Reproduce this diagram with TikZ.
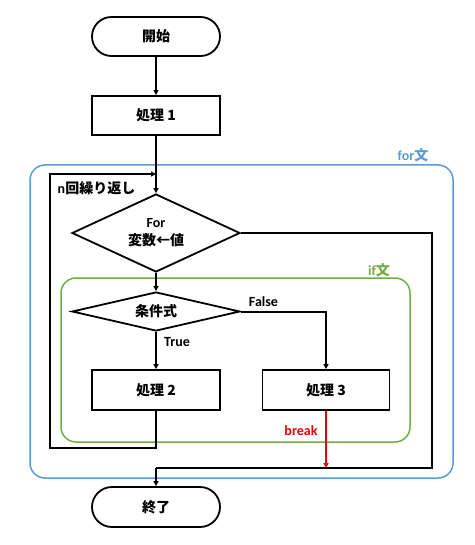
\documentclass[tikz,border=0pt]{standalone}
\usepackage{fontspec}
\setmainfont{Carlito}[BoldFont={Carlito Bold}]
\newfontfamily\jp{Noto Sans CJK JP}
\usetikzlibrary{shapes.geometric,shapes.misc,arrows.meta}
\definecolor{forblue}{RGB}{91,155,213}
\definecolor{ifgreen}{RGB}{112,173,71}
\definecolor{brkred}{RGB}{235,0,0}
\newcommand{\J}[1]{{\jp\bfseries #1}}
\tikzset{
  base/.style={draw=black,line width=1.8pt,inner sep=0pt,font=\fontsize{14}{16}\selectfont\bfseries,align=center},
  term/.style={base,rounded rectangle,minimum width=128pt,minimum height=39pt},
  proc/.style={base,rectangle,minimum width=128pt,minimum height=39pt},
  dia/.style={base,diamond,minimum width=168pt},
  conn/.style={line width=2pt,-{Triangle[length=5pt,width=5pt]}},
  plain/.style={line width=2pt},
  lbl/.style={font=\fontsize{14}{16}\selectfont\bfseries,inner sep=0pt},
  group/.style={line width=1.5pt,rounded corners=15pt}
}
\begin{document}
\begin{tikzpicture}[x=1pt,y=-1pt]
\useasboundingbox (0,0) rectangle (474,545);
% group frames
\draw[group,draw=forblue] (30,165) rectangle (453,478);
\draw[group,draw=ifgreen] (61,278) rectangle (410,442);
\node[lbl,text=forblue] (forlbl) at (413,155) {for\J{文}};
\node[lbl,text=ifgreen] (iflbl) at (379,270) {if\J{文}};
% nodes
\node[term] (start) at (156,36.5) {\J{開始}};
\node[proc] (p1) at (156,115.5) {\J{処理 1}};
\node[dia,minimum height=78pt,aspect=2.15] (fordia) at (156,233) {For\\[2pt]\J{変数←値}};
\node[dia,minimum height=39pt,aspect=4.3] (cond) at (156,311.5) {\J{条件式}};
\node[proc,minimum height=40pt] (p2) at (156,390) {\J{処理 2}};
\node[proc,minimum width=127pt,minimum height=40pt] (p3) at (326,390) {\J{処理 3}};
\node[term,minimum height=40pt] (end) at (156,507) {\J{終了}};
% coordinates
\coordinate (loopbl) at (50,448);
\coordinate (looptl) at (50,174);
\coordinate (loopin) at (156,174);
\coordinate (exitR) at (432,468);
\coordinate (exitJ) at (156,468);
\coordinate (brk) at (326,468);
% connectors
\draw[conn] (start.south) -- (p1.north);
\draw[conn] (p1.south) -- (fordia.north);
\draw[conn] (p2.south) |- (loopbl) -- (looptl) -- (loopin);
\draw[plain] (fordia.east) -| (exitR) -- (exitJ);
\draw[conn] (exitJ) -- (end.north);
\draw[conn] (fordia.south) -- (cond.north);
\draw[conn] (cond.east) -| (p3.north);
\draw[conn] (cond.south) -- (p2.north);
\draw[line width=1.8pt,draw=brkred,-{Triangle[length=5pt,width=5pt]}] (p3.south) -- (brk);
% labels
\node[lbl] (nloop) at (96.5,188) {n\J{回繰り返し}};
\node[lbl] (falselbl) at (263.5,302) {False};
\node[lbl] (truelbl) at (177,342) {True};
\node[lbl,text=brkred] (brklbl) at (301,431) {break};
\end{tikzpicture}
\end{document}
